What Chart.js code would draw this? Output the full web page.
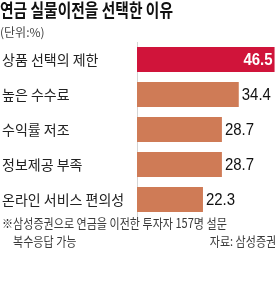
<!DOCTYPE html>
<html>
<head>
<meta charset="utf-8">
<script src="https://cdn.jsdelivr.net/npm/chart.js@4/dist/chart.umd.min.js"></script>
<style>
  body { margin: 0; background: #fff; }
  #wrap { position: relative; width: 280px; height: 306px; overflow: hidden; font-family: "Noto Sans CJK KR", sans-serif; }
  #chart { position: absolute; left: 0; top: 0; }
  .txt { position: absolute; white-space: nowrap; transform-origin: left top; }
  #title { left: 0; top: -4px; font-size: 18px; font-weight: 700; color: #111; transform: scaleX(0.82); }
  #unit { left: 0; top: 23px; font-size: 12px; color: #444; }
  #note1 { left: 2px; top: 213px; font-size: 13px; color: #3a3a3a; transform: scaleX(0.85); }
  #note2 { left: 13px; top: 231px; font-size: 13px; color: #3a3a3a; transform: scaleX(0.85); }
  #source { right: 4px; top: 231px; font-size: 13px; color: #3a3a3a; transform: scaleX(0.85); transform-origin: right top; }
</style>
</head>
<body>
<div id="wrap">
  <canvas id="chart" width="280" height="306"></canvas>
  <div class="txt" id="title">연금 실물이전을 선택한 이유</div>
  <div class="txt" id="unit">(단위:%)</div>
  <div class="txt" id="note1">※삼성증권으로 연금을 이전한 투자자 157명 설문</div>
  <div class="txt" id="note2">복수응답 가능</div>
  <div class="txt" id="source">자료: 삼성증권</div>
</div>
<script>
// data
const reasons = ["상품 선택의 제한", "높은 수수료", "수익률 저조", "정보제공 부족", "온라인 서비스 편의성"];
const shares = [46.5, 34.4, 28.7, 28.7, 22.3];

const barColors = shares.map((v, i) => i === 0 ? "#d0143a" : "#cf7b56");

// value labels next to / inside the bars
const valueLabels = {
    id: "valueLabels",
    afterDatasetsDraw(chart) {
        const ctx = chart.ctx;
        const meta = chart.getDatasetMeta(0);
        meta.data.forEach((bar, i) => {
            const txt = shares[i].toFixed(1);
            ctx.save();
            ctx.textBaseline = "middle";
            if (i === 0) {
                ctx.font = "bold 17px 'Liberation Sans', Arial, sans-serif";
                ctx.fillStyle = "#fff";
                ctx.textAlign = "right";
                ctx.translate(bar.x - 2, bar.y + 1);
            } else {
                ctx.font = "17px 'Liberation Sans', Arial, sans-serif";
                ctx.fillStyle = "#111";
                ctx.textAlign = "left";
                ctx.translate(bar.x + 3, bar.y + 1);
            }
            ctx.scale(0.88, 1);
            ctx.fillText(txt, 0, 0);
            ctx.restore();
        });
    }
};

new Chart(document.getElementById("chart"), {
    type: "bar",
    data: {
        labels: reasons,
        datasets: [
            {
                data: shares,
                backgroundColor: barColors,
                borderWidth: 0,
                barPercentage: 1,
                categoryPercentage: 0.714
            }
        ]
    },
    options: {
        indexAxis: "y",
        responsive: false,
        animation: false,
        devicePixelRatio: 1,
        layout: { padding: { left: 2, top: 42, bottom: 89, right: 1 } },
        plugins: {
            legend: { display: false },
            tooltip: { enabled: false }
        },
        scales: {
            x: {
                display: false,
                min: 0,
                max: 48
            },
            y: {
                grid: { display: false },
                border: { display: true, color: "#d4d4d4", width: 1 },
                ticks: {
                    crossAlign: "far",
                    color: "#222",
                    font: { family: "'Noto Sans CJK KR', sans-serif", size: 14 }
                },
                afterFit(scale) { scale.width = 135; }
            }
        }
    },
    plugins: [valueLabels]
});
</script>
</body>
</html>
